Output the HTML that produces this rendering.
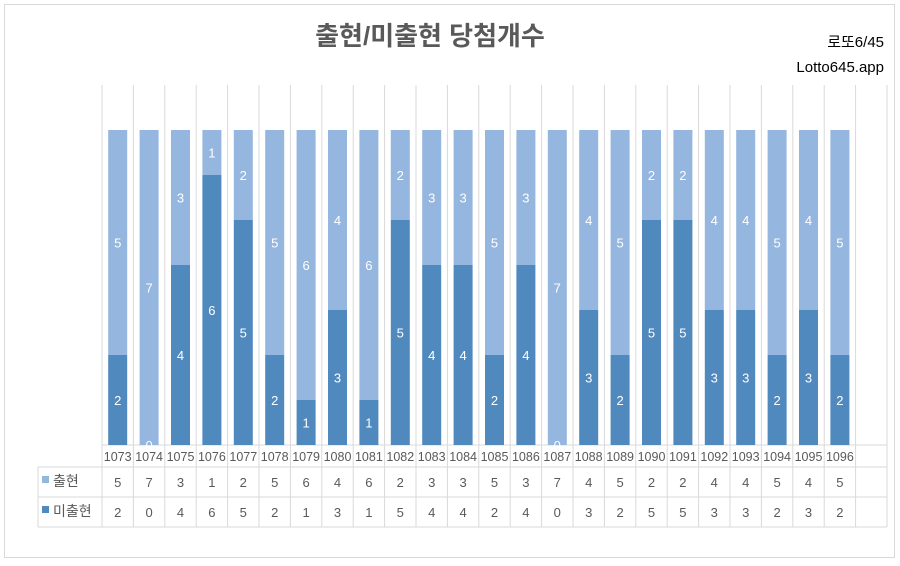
<!DOCTYPE html>
<html><head><meta charset="utf-8"><style>
body{margin:0;background:#fff;font-family:"Liberation Sans","Noto Sans CJK KR",sans-serif;}
svg text{font-family:"Liberation Sans","Noto Sans CJK KR",sans-serif;}
</style></head><body>
<svg id="c" width="900" height="561" xmlns="http://www.w3.org/2000/svg">
<rect x="4.5" y="4.5" width="890" height="553" fill="#fff" stroke="#d9d9d9"/>
<text x="430" y="45" text-anchor="middle" font-size="26" font-weight="bold" fill="#595959">출현/미출현 당첨개수</text>
<text x="884" y="47" text-anchor="end" font-size="15" fill="#000">로또6/45</text>
<text x="884" y="72" text-anchor="end" font-size="15" fill="#000">Lotto645.app</text>
<g id="grid"></g><g id="bars"></g><g id="table"></g>
</svg>
<script>
const categories=["1073","1074","1075","1076","1077","1078","1079","1080","1081","1082","1083","1084","1085","1086","1087","1088","1089","1090","1091","1092","1093","1094","1095","1096"];
const appeared=[5,7,3,1,2,5,6,4,6,2,3,3,5,3,7,4,5,2,2,4,4,5,4,5];
const notAppeared=[2,0,4,6,5,2,1,3,1,5,4,4,2,4,0,3,2,5,5,3,3,2,3,2];
const seriesNames=["출현","미출현"];
const NS="http://www.w3.org/2000/svg";
const x0=102,colW=31.4,yBase=445,unit=45,barW=19;
const xAt=i=>x0+i*colW+colW/2;
const yAt=v=>yBase-v*unit;
function mk(t,a,p){const e=document.createElementNS(NS,t);for(const k in a)e.setAttribute(k,a[k]);p.appendChild(e);return e;}
const grid=document.getElementById('grid'),bars=document.getElementById('bars'),tbl=document.getElementById('table');
const n=categories.length;
for(let i=0;i<=n+1;i++){const x=x0+i*colW;
 const l=mk('line',{x1:x,x2:x,y1:85,y2:527,stroke:'#d9d9d9','stroke-width':1},grid);
 
 }
[467,497,527].forEach(y=>{const l=mk('line',{x1:38,x2:x0+(n+1)*colW,y1:y,y2:y,stroke:'#d9d9d9'},grid);
 
 });
mk('line',{x1:38,x2:38,y1:467,y2:527,stroke:'#d9d9d9'},grid);
mk('line',{x1:x0,x2:x0+(n+1)*colW,y1:445,y2:445,stroke:'#d9d9d9'},grid);
const cols=['#95b6de','#4f89bd'];
categories.forEach((c,i)=>{
 const cx=xAt(i),d=notAppeared[i],a=appeared[i];
 const r1=mk('rect',{x:cx-barW/2,y:yAt(d),width:barW,height:yBase-yAt(d),fill:cols[1]},bars);
 
 
 const r2=mk('rect',{x:cx-barW/2,y:yAt(d+a),width:barW,height:yAt(d)-yAt(d+a),fill:cols[0]},bars);
 
 
 const t1=mk('text',{x:cx,y:(yBase+yAt(d))/2+5,'text-anchor':'middle','font-size':13,fill:'#fff'},bars);t1.textContent=d;
 
 
 const t2=mk('text',{x:cx,y:(yAt(d)+yAt(d+a))/2+5,'text-anchor':'middle','font-size':13,fill:'#fff'},bars);t2.textContent=a;
 
 
 const tc=mk('text',{x:cx,y:461,'text-anchor':'middle','font-size':12.5,fill:'#595959'},tbl);tc.textContent=c;
 
 
 const ta=mk('text',{x:cx,y:487,'text-anchor':'middle','font-size':13,fill:'#595959'},tbl);ta.textContent=a;
 
 
 const tn=mk('text',{x:cx,y:517,'text-anchor':'middle','font-size':13,fill:'#595959'},tbl);tn.textContent=d;
 
 
});
seriesNames.forEach((s,k)=>{const y=482+k*30;
 const sw=mk('rect',{x:42,y:y-6,width:7,height:7,fill:cols[k]},tbl);
 
 
 const t=mk('text',{x:53,y:y+4,'font-size':14,fill:'#595959'},tbl);t.textContent=s;
 
 });
</script>
</body></html>
